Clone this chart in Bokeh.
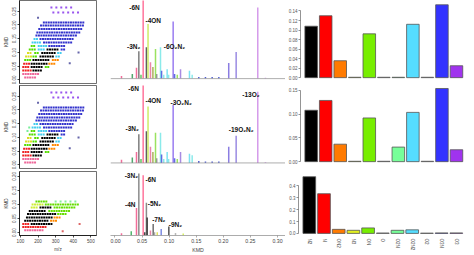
from bokeh.plotting import figure
from bokeh.layouts import row, column
from bokeh.models import FixedTicker, Range1d, Span
from bokeh.embed import file_html
from bokeh.resources import INLINE
from bokeh.core.properties import value

FONT = "Liberation Sans"

# ---------------- right column: class fractions ----------------
class_labels = ["N2", "N", "ON2", "N3", "ON", "O", "O2N", "O2N2", "O2", "O3N", "O3"]
bar_fill = ["#000000", "#ff0000", "#ff7a00", "#e2f020", "#77ee00", "#cccccc",
            "#77ff99", "#55ddff", "#cccccc", "#3333ff", "#a033ee"]
frac_row1 = [0.108, 0.130, 0.0355, 0.0008, 0.092, 0.0008, 0.0008, 0.112, 0.0008, 0.153, 0.025]
frac_row2 = [0.108, 0.1286, 0.0367, 0.0008, 0.0918, 0.0008, 0.0306, 0.1035, 0.0008, 0.1537, 0.025]
frac_row3 = [0.477, 0.334, 0.034, 0.026, 0.046, 0.003, 0.026, 0.030, 0.002, 0.004, 0.004]
frac_ticks_row1 = [0.00, 0.02, 0.04, 0.06, 0.08, 0.10, 0.12, 0.14]
frac_ticks_row2 = [0.00, 0.05, 0.10, 0.15]
frac_ticks_row3 = [0.0, 0.1, 0.2, 0.3, 0.4]

# ---------------- middle column: KMD spectra ----------------
kmd_peaks = [0.012, 0.032, 0.0397, 0.044, 0.048, 0.052, 0.058, 0.061, 0.0655, 0.070,
             0.0748, 0.077, 0.084, 0.086, 0.090, 0.0963, 0.099, 0.1074, 0.110, 0.115,
             0.121, 0.1375, 0.1425, 0.1547, 0.167, 0.1794, 0.1917, 0.210, 0.2237, 0.2636, 0.2778]
peak_colors = ["#ee5588", "#339955", "#ee5588", "#666666", "#44bb44", "#ff5c8a", "#444444",
               "#c5e84a", "#e6709a", "#a0a040", "#88dd44", "#888888", "#77e6e6", "#4455dd",
               "#77e6e6", "#66ddee", "#77e6e6", "#8866ee", "#4455dd", "#88dd44", "#9977dd",
               "#66ddee", "#77e6e6", "#3344cc", "#3344cc", "#3344cc", "#3344cc", "#7766dd",
               "#8877dd", "#cc88e6", "#cc88e6"]
inten_row1 = [0.033, 0.06, 0.14, 0.35, 0.05, 1.05, 0.40, 0.70, 0.21, 0.15, 0.38, 0.06, 0.40,
              0.10, 0.05, 0.12, 0.05, 0.73, 0.06, 0.05, 0.12, 0.10, 0.05, 0.02, 0.02, 0.02,
              0.02, 0.20, 0.34, 0.91, 0.01]
inten_row2 = [0.04, 0.07, 0.14, 0.37, 0.05, 1.05, 0.41, 0.73, 0.21, 0.14, 0.39, 0.06, 0.39,
              0.11, 0.05, 0.14, 0.05, 0.75, 0.06, 0.05, 0.14, 0.12, 0.10, 0.025, 0.02, 0.02,
              0.02, 0.21, 0.35, 0.92, 0.01]
kmd_peaks3 = [0.012, 0.030, 0.0397, 0.044, 0.052, 0.055, 0.058, 0.0594, 0.0655, 0.0705,
              0.073, 0.078, 0.0853, 0.0994, 0.1117, 0.126]
peak_colors3 = ["#ee5588", "#33aa55", "#ee5588", "#777777", "#ff5c8a", "#222222", "#777777",
                "#222222", "#e6709a", "#555555", "#999999", "#dddd44", "#6677dd", "#333333",
                "#aaaaaa", "#ccee44"]
inten_row3 = [0.036, 0.067, 0.43, 0.97, 0.94, 0.05, 0.51, 0.28, 0.08, 0.18, 0.05, 0.05,
              0.10, 0.14, 0.04, 0.03]
kmd_ticks = [0.00, 0.05, 0.10, 0.15, 0.20, 0.25, 0.30]

# peak annotations: (text, kmd, height, align)
notes_row1 = [("-6N", 0.0458, 0.916, "right"), ("-4ON", 0.0563, 0.75, "left"),
              ("-3N\u2082", 0.047, 0.406, "right"), ("-6O\u2082N\u2082", 0.090, 0.406, "left")]
notes_row2 = [("-6N", 0.044, 0.96, "right"), ("-4ON", 0.0563, 0.80, "left"),
              ("-3O\u2082N\u2082", 0.1025, 0.78, "left"), ("-3N\u2082", 0.044, 0.445, "right"),
              ("-13O\u2082", 0.235, 0.887, "left"), ("-19O\u2082N\u2082", 0.210, 0.426, "left")]
notes_row3 = [("-3N\u2082", 0.0425, 0.935, "right"), ("-6N", 0.0563, 0.87, "left"),
              ("-4N", 0.0378, 0.48, "right"), ("-5N\u2082", 0.0605, 0.50, "left"),
              ("-7N\u2082", 0.0686, 0.257, "left"), ("-9N\u2082", 0.0993, 0.166, "left")]

# ---------------- left column: KMD vs m/z ----------------
# homologous rows: (KMD, first m/z, last m/z, m/z step)
top_O3 = [(0.264, 276, 404, 28), (0.246, 287, 436, 28)]
top_O3N = [(0.111, 334, 351, 14), (0.123, 264, 356, 14), (0.136, 234, 393, 14),
           (0.149, 214, 409, 14), (0.162, 191, 420, 14), (0.173, 196, 436, 14),
           (0.185, 207, 447, 14), (0.198, 217, 457, 14), (0.209, 233, 463, 14)]
top_O2N2 = [(0.085, 304, 324, 14), (0.098, 314, 340, 14), (0.111, 204, 240, 14),
            (0.123, 204, 250, 14), (0.136, 169, 220, 14), (0.149, 180, 200, 14)]
top_ON = [(0.047, 244, 260, 14), (0.072, 127, 160, 14), (0.085, 174, 200, 14),
          (0.098, 184, 210, 14), (0.111, 153, 190, 14), (0.123, 164, 190, 14)]
top_N3 = [(0.085, 132, 160, 14), (0.098, 143, 170, 14)]
top_ON2 = [(0.059, 264, 297, 14), (0.072, 284, 313, 14)]
top_N = [(0.034, 116, 160, 14), (0.047, 116, 150, 14), (0.059, 121, 150, 14)]
top_Npink = [(0.008, 127, 191, 14), (0.021, 116, 207, 14)]
top_N2 = [(0.034, 174, 223, 14), (0.047, 164, 230, 14), (0.059, 164, 250, 14),
          (0.072, 174, 270, 14), (0.085, 214, 290, 14), (0.098, 224, 300, 14),
          (0.111, 254, 320, 14)]
top_stray = [(0.226, 200, 200, 14), (0.100, 430, 430, 14), (0.060, 380, 380, 14)]
mid_O2N = [(0.136, 150, 160, 14), (0.123, 140, 150, 14)]

bot_N2 = [(0.031, 164, 287, 14), (0.042, 127, 260, 14), (0.054, 137, 280, 14),
          (0.066, 143, 300, 14), (0.077, 153, 250, 14), (0.089, 214, 280, 14)]
bot_N = [(0.020, 116, 249, 14), (0.031, 116, 150, 14)]
bot_Npink = [(0.008, 127, 233, 14)]
bot_ON = [(0.066, 314, 356, 14), (0.077, 264, 377, 14), (0.089, 294, 409, 14),
          (0.100, 244, 431, 14), (0.111, 191, 249, 14)]
bot_N3 = [(0.089, 164, 200, 14), (0.100, 169, 230, 14)]
bot_ON2 = [(0.042, 274, 303, 14), (0.054, 294, 329, 14)]
bot_O2N = [(0.111, 300, 430, 28)]
bot_stray = [(0.031, 436, 436, 14), (0.005, 340, 340, 14)]

scatter_ticks_top = [0.00, 0.05, 0.10, 0.15, 0.20, 0.25]
scatter_ticks_bot = [0.00, 0.05, 0.10, 0.15, 0.20]
mz_ticks = [100, 200, 300, 400, 500]


def expand(rows_):
    xs, ys = [], []
    for kmd, lo, hi, step in rows_:
        for mz in range(lo, hi + 1, step):
            xs.append(mz)
            ys.append(kmd)
    return xs, ys


def style_axes(p, size="5px"):
    for ax in p.axis:
        ax.major_label_text_font = FONT
        ax.major_label_text_font_size = size
        ax.axis_label_text_font = FONT
        ax.axis_label_text_font_size = size
        ax.axis_label_text_font_style = "normal"
        ax.major_label_standoff = 1
        ax.axis_label_standoff = 1
        ax.major_tick_out = 2
        ax.major_tick_in = 0
        ax.minor_tick_line_color = None
        ax.axis_line_width = 0.7
        ax.major_tick_line_width = 0.7
    p.xgrid.visible = False
    p.ygrid.visible = False


def scatter_fig(series, yr, ticks, show_x):
    p = figure(width=110, height=85, x_range=Range1d(94.7, 532), y_range=Range1d(*yr),
               output_backend="svg", toolbar_location=None,
               min_border_left=14, min_border_right=14,
               min_border_top=1 if show_x else 0, min_border_bottom=18 if show_x else 2)
    for rows_, color in series:
        xs, ys = expand(rows_)
        p.scatter(xs, ys, size=2.0, marker="square", fill_color=color, line_color=None)
    p.yaxis.ticker = FixedTicker(ticks=ticks)
    p.yaxis.major_label_overrides = {t: f"{t:.2f}" for t in ticks}
    p.yaxis.major_label_orientation = "vertical"
    p.yaxis.axis_label = "KMD"
    if show_x:
        p.xaxis.ticker = FixedTicker(ticks=mz_ticks)
        p.xaxis.axis_label = "m/z"
    else:
        p.xaxis.visible = False
    p.outline_line_color = "#333333"
    p.outline_line_width = 0.7
    style_axes(p, "4.6px")
    return p


def spectrum_fig(kmd, inten, cols, notes, yr, show_x):
    p = figure(width=175, height=85, x_range=Range1d(-0.0083, 0.3148), y_range=Range1d(*yr),
               output_backend="svg", toolbar_location=None,
               min_border_left=0, min_border_right=0, min_border_top=0,
               min_border_bottom=20 if show_x else 0)
    p.segment(x0=kmd, y0=[0] * len(kmd), x1=kmd, y1=inten, line_color=cols,
              line_width=1.5, line_alpha=0.85)
    for align in ("left", "right"):
        sel = [n for n in notes if n[3] == align]
        if sel:
            p.text(x=[n[1] for n in sel], y=[n[2] for n in sel], text=[n[0] for n in sel],
                   text_align=align, text_baseline="middle", text_font=value(FONT),
                   text_font_style="bold", text_font_size="6.5px", text_color="#111111")
    p.yaxis.visible = False
    if show_x:
        p.xaxis.ticker = FixedTicker(ticks=kmd_ticks)
        p.xaxis.major_label_overrides = {t: f"{t:.2f}" for t in kmd_ticks}
        p.xaxis.axis_label = "KMD"
        p.xaxis.axis_line_color = "#888888"
        p.xaxis.major_tick_line_color = "#888888"
    else:
        p.xaxis.visible = False
        p.add_layout(Span(location=0, dimension="width", line_color="#999999", line_width=0.8))
    p.outline_line_color = None
    style_axes(p, "5.2px")
    return p


def bar_fig(vals, yr, ticks, fmt, show_x):
    p = figure(width=189, height=85, x_range=Range1d(-0.735, 10.966), y_range=Range1d(*yr),
               output_backend="svg", toolbar_location=None,
               min_border_left=13, min_border_right=4, min_border_top=0,
               min_border_bottom=15 if show_x else 0)
    p.vbar(x=list(range(len(vals))), top=vals, width=0.864, fill_color=bar_fill,
           line_color="#555555", line_width=0.8)
    p.yaxis.ticker = FixedTicker(ticks=ticks)
    p.yaxis.major_label_overrides = {t: fmt.format(t) for t in ticks}
    p.yaxis.bounds = (ticks[0], ticks[-1])
    p.yaxis.axis_line_color = "#666666"
    p.yaxis.major_tick_line_color = "#666666"
    if show_x:
        p.xaxis.ticker = FixedTicker(ticks=list(range(len(class_labels))))
        p.xaxis.major_label_overrides = {i: s for i, s in enumerate(class_labels)}
        p.xaxis.major_label_orientation = "vertical"
        p.xaxis.axis_line_color = None
        p.xaxis.major_tick_line_color = None
    else:
        p.xaxis.visible = False
    p.outline_line_color = None
    style_axes(p, "4.5px")
    p.yaxis.major_label_text_color = "#555555"
    return p


top_series = [(top_O3, "#9955ee"), (top_O3N, "#3333cc"), (top_O2N2, "#44ccee"),
              (top_ON, "#55dd00"), (top_N3, "#dddd22"), (top_ON2, "#ff8800"),
              (top_Npink, "#ee6699"), (top_N, "#ee2222"), (top_N2, "#000000"),
              (top_stray, "#6666aa")]
mid_series = top_series + [(mid_O2N, "#77ee99")]
bot_series = [(bot_O2N, "#88ee99"), (bot_ON, "#66dd00"), (bot_N3, "#ccee33"),
              (bot_ON2, "#ff8800"), (bot_Npink, "#ee6699"), (bot_N, "#ee2222"),
              (bot_N2, "#000000"), (bot_stray, "#dd6666")]

s1 = scatter_fig(top_series, (-0.0135, 0.2894), scatter_ticks_top, False)
s2 = scatter_fig(mid_series, (-0.0135, 0.2894), scatter_ticks_top, False)
s3 = scatter_fig(bot_series, (-0.0103, 0.2172), scatter_ticks_bot, True)

m1 = spectrum_fig(kmd_peaks, inten_row1, peak_colors, notes_row1, (-0.0625, 1.0), False)
m2 = spectrum_fig(kmd_peaks, inten_row2, peak_colors, notes_row2, (-0.072, 1.0), False)
m3 = spectrum_fig(kmd_peaks3, inten_row3, peak_colors3, notes_row3, (0.0, 1.0), True)

b1 = bar_fig(frac_row1, (-0.0123, 0.162), frac_ticks_row1, "{:.2f}", False)
b2 = bar_fig(frac_row2, (-0.0144, 0.160), frac_ticks_row2, "{:.2f}", False)
b3 = bar_fig(frac_row3, (-0.0177, 0.521), frac_ticks_row3, "{:.1f}", True)

layout = column(row(s1, m1, b1), row(s2, m2, b2), row(s3, m3, b3))

with open("out.html", "w") as f:
    f.write(file_html(layout, INLINE))
